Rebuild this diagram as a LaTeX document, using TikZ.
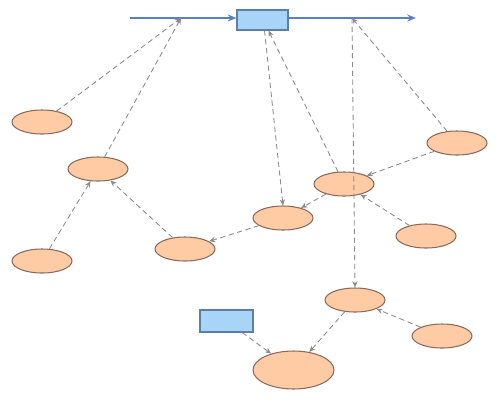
\documentclass[tikz,border=0pt]{standalone}
\usetikzlibrary{arrows.meta,shapes.geometric}
\definecolor{peach}{HTML}{FFCBA4}
\definecolor{peachline}{HTML}{8A6A5C}
\definecolor{boxfill}{HTML}{A8D4F8}
\definecolor{boxline}{HTML}{5A7FA8}
\definecolor{flow}{HTML}{5B7FC7}
\definecolor{dep}{HTML}{8C8C8C}
\tikzset{
  oval/.style={ellipse, draw=peachline, fill=peach, line width=0.6pt, minimum width=1.2cm, minimum height=0.48cm, inner sep=0pt},
  bigoval/.style={oval, minimum width=1.62cm, minimum height=0.76cm},
  bluebox/.style={rectangle, draw=boxline, fill=boxfill, line width=0.6pt, inner sep=0pt},
  mainflow/.style={draw=flow, line width=1.1pt, -{Stealth[length=5pt,width=4pt]}},
  depline/.style={draw=dep, line width=0.5pt, dash pattern=on 3pt off 2pt, -{Stealth[length=3.5pt,width=3pt]}}
}
\begin{document}
\begin{tikzpicture}[x=0.02cm, y=-0.02cm]
\useasboundingbox (0,0) rectangle (500,400);
% top flow
\node[bluebox, minimum width=1.02cm, minimum height=0.4cm] (box) at (262.5,20) {};
\coordinate (s) at (130,18);
\coordinate (e) at (416,18);
\coordinate (p1) at (181,18);
\coordinate (p2) at (352,18);
\draw[mainflow] (s) -- (box.west |- s);
\draw[mainflow] (box.east |- e) -- (e);
% ellipses
\node[oval] (e1) at (42,122) {};
\node[oval] (e2) at (98,169) {};
\node[oval] (e3) at (42,261) {};
\node[oval] (e4) at (185,249) {};
\node[oval] (e5) at (344,184) {};
\node[oval] (e6) at (283,218) {};
\node[oval] (e7) at (457,143) {};
\node[oval] (e8) at (426,236) {};
\node[oval] (e9) at (355,300) {};
\node[oval] (e10) at (442,336) {};
\node[bigoval] (e11) at (293.5,370) {};
\node[bluebox, minimum width=1.06cm, minimum height=0.44cm] (rect2) at (226.5,321) {};
% dependencies
\draw[depline] (e1) -- (p1);
\draw[depline] (e2) -- (p1);
\draw[depline] (e3) -- (e2);
\draw[depline] (e4) -- (e2);
\draw[depline] ([xshift=0.04cm]box.south) -- (e6.north);
\draw[depline] (e5) -- ([xshift=0.12cm]box.south);
\draw[depline] (e5) -- (e6);
\draw[depline] (e6) -- (e4);
\draw[depline] (e7) -- (e5);
\draw[depline] (e7) -- (p2);
\draw[depline] (p2) -- (e9.north);
\draw[depline] (e8) -- (e5);
\draw[depline] (e10) -- (e9);
\draw[depline] (e9) -- (e11);
\draw[depline] (rect2) -- (e11);
\end{tikzpicture}
\end{document}
